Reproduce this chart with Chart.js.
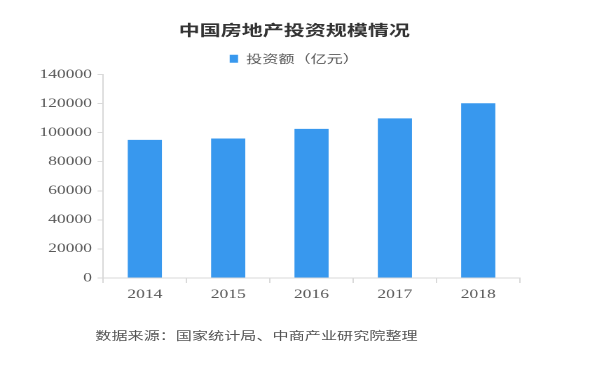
<!DOCTYPE html>
<html>
<head>
<meta charset="utf-8">
<script src="https://cdn.jsdelivr.net/npm/chart.js@4"></script>
<style>
    html, body { margin: 0; padding: 0; background: #fff; }
    body { width: 604px; height: 367px; overflow: hidden; position: relative; }
    /* 原图被横向拉伸过，这里整体横向放大 */
    #wrap {
        position: absolute; left: 0; top: 0;
        width: 431px; height: 367px;
        transform: scaleX(1.4014); transform-origin: 0 0;
    }
    #source {
        position: absolute; left: 68px; top: 327px;
        font: 11.5px "Noto Sans CJK SC", sans-serif;
        color: #555; white-space: nowrap;
    }
</style>
</head>
<body>
<div id="wrap">
    <canvas id="investChart" width="431" height="367"></canvas>
    <div id="source">数据来源：国家统计局、中商产业研究院整理</div>
</div>
<script>
// 数据
const years = ['2014', '2015', '2016', '2017', '2018'];
const investment = [95036, 95979, 102581, 109799, 120264];
const seriesName = '投资额（亿元）';
const chartTitle = '中国房地产投资规模情况';

const axisColor = '#d9d9d9';
const labelColor = '#595959';
const numberFont = { family: '"Liberation Serif", "DejaVu Serif", serif', size: 12.5 };

function setupChart() {
    const ctx = document.getElementById('investChart').getContext('2d');
    new Chart(ctx, {
        type: 'bar',
        data: {
            labels: years,
            datasets: [{
                label: seriesName,
                data: investment,
                backgroundColor: '#3898ee',
                borderWidth: 0,
                categoryPercentage: 1,
                barPercentage: 0.41
            }]
        },
        options: {
            responsive: false,
            devicePixelRatio: 2,
            animation: false,
            layout: { padding: { top: 21, bottom: 61, left: 27, right: 38 } },
            scales: {
                x: {
                    grid: { drawOnChartArea: false, color: axisColor, tickLength: 5 },
                    border: { color: axisColor },
                    ticks: { color: labelColor, font: numberFont, padding: 4 }
                },
                y: {
                    min: 0,
                    max: 140000,
                    afterFit: function(scale) { scale.width = 46.6; },
                    grid: { drawOnChartArea: false, color: axisColor, tickLength: 4 },
                    border: { color: axisColor },
                    ticks: {
                        stepSize: 20000,
                        color: labelColor,
                        font: numberFont,
                        padding: 4,
                        callback: function(value) { return String(value); } // 不要千分位逗号
                    }
                },
                // 右侧空白，让标题居中于整张图
                yRight: {
                    position: 'right',
                    afterFit: function(scale) { scale.width = 22; },
                    grid: { display: false },
                    border: { display: false },
                    ticks: { display: false }
                }
            },
            plugins: {
                title: {
                    display: true,
                    text: chartTitle,
                    color: '#333',
                    font: { family: '"Noto Sans CJK SC", sans-serif', size: 15, weight: 'bold' },
                    padding: { top: 0, bottom: 4 }
                },
                legend: {
                    display: true,
                    labels: {
                        boxWidth: 6,
                        boxHeight: 8,
                        color: labelColor,
                        font: { family: '"Noto Sans CJK SC", sans-serif', size: 11.5 }
                    }
                },
                tooltip: { enabled: false }
            }
        }
    });
}

setupChart();
</script>
</body>
</html>
